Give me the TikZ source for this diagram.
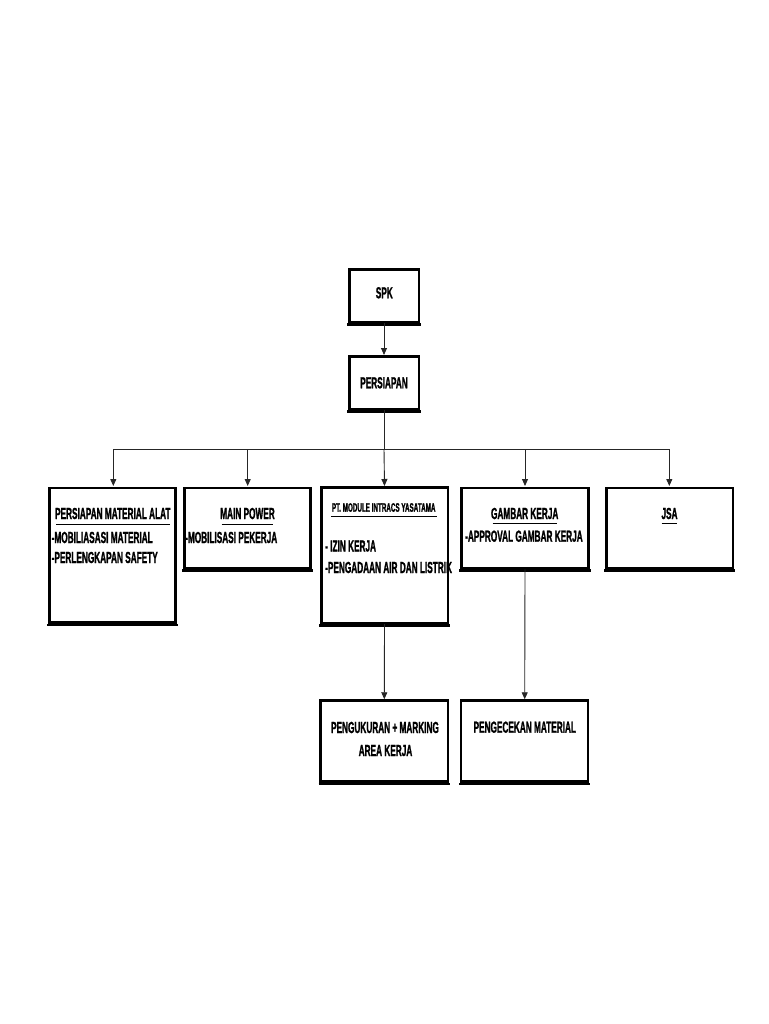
\documentclass[tikz,border=0pt]{standalone}
\usepackage{fontspec}
\newfontfamily\nar[FakeStretch=0.515,FakeBold=1.2]{Liberation Sans}
\usetikzlibrary{arrows.meta}
\tikzset{
  box/.style={draw=black, line width=2.5pt, fill=white, inner sep=0pt},
  lbl/.style={font=\nar\bfseries\fontsize{16}{19}\selectfont, inner sep=0pt, anchor=base},
  lbll/.style={lbl, anchor=base west},
  small/.style={font=\nar\bfseries\fontsize{12.2}{14}\selectfont, inner sep=0pt, anchor=base},
  uline/.style={line width=1.3pt},
  conn/.style={line width=0.9pt, draw=black!85},
  arr/.style={conn, -{Triangle[length=7pt,width=6pt]}},
  shade/.style={line width=2.5pt}
}
\begin{document}
\begin{tikzpicture}[x=1pt,y=-1pt]
\useasboundingbox (0,0) rectangle (768,1024);
% boxes
\node[box, minimum width=69.5pt, minimum height=52.5pt] (spk) at (384,295.5) {};
\node[box, minimum width=69.5pt, minimum height=52.5pt] (pers) at (384,382.5) {};
\node[box, minimum width=126pt, minimum height=134.5pt] (b1) at (112.5,555) {};
\node[box, minimum width=126pt, minimum height=80pt] (b2) at (247.5,528) {};
\node[box, minimum width=126.5pt, minimum height=135.5pt] (b3) at (384.5,555) {};
\node[box, minimum width=127pt, minimum height=80pt] (b4) at (525,528) {};
\node[box, minimum width=126.5pt, minimum height=80pt] (b5) at (669.5,528) {};
\node[box, minimum width=127.5pt, minimum height=81pt] (b6) at (384.3,741) {};
\node[box, minimum width=127pt, minimum height=81pt] (b7) at (524.7,741) {};
\foreach \n in {spk,pers,b1,b2,b3,b4,b5,b6,b7}
  \draw[shade] ([xshift=-0.8pt,yshift=-1.3pt]\n.south west) -- ([xshift=0.8pt,yshift=-1.3pt]\n.south east);
% connectors
\coordinate (junc) at (384,449);
\draw[arr] (spk.south) -- (pers.north);
\draw[conn] (pers.south) -- (junc);
\draw[conn] (113.3,449) -- (669.3,449);
\draw[arr] (113.3,449) -- (113.3,486);
\draw[arr] (247.7,449) -- (247.7,486);
\draw[arr] (junc) -- (b3.north);
\draw[arr] (525,449) -- (525,486);
\draw[arr] (669.3,449) -- (669.3,486);
\draw[arr] (b3.south) -- (b6.north);
\draw[arr] (b4.south) -- (b7.north);
% texts
\node[lbl] (tspk) at (384.3,298.3) {SPK};
\node[lbl] (tpers) at (384,388.3) {PERSIAPAN};
\node[lbl] (h1) at (112.8,519) {PERSIAPAN MATERIAL ALAT};
\draw[uline] (56,524.3) -- (170,524.3);
\node[lbll] (t1a) at (51.5,543) {-MOBILIASASI MATERIAL};
\node[lbll] (t1b) at (51.5,563) {-PERLENGKAPAN SAFETY};
\node[lbl] (h2) at (247.5,519) {MAIN POWER};
\draw[uline] (221.7,524.3) -- (273.3,524.3);
\node[lbll] (t2a) at (185,543) {-MOBILISASI PEKERJA};
\node[small] (h3) at (383.7,511.7) {PT. MODULE INTRACS YASATAMA};
\draw[uline] (331,516.3) -- (437,516.3);
\node[lbll] (t3a) at (325,551.5) {- IZIN KERJA};
\node[lbll] (t3b) at (325,573) {-PENGADAAN AIR DAN LISTRIK};
\node[lbl] (h4) at (524.7,519) {GAMBAR KERJA};
\draw[uline] (492.7,523.8) -- (556.7,523.8);
\node[lbll] (t4a) at (465,541.7) {-APPROVAL GAMBAR KERJA};
\node[lbl] (h5) at (669.5,519) {JSA};
\draw[uline] (661.7,523.8) -- (677.3,523.8);
\node[lbl] (t6a) at (385,733) {PENGUKURAN + MARKING};
\node[lbl] (t6b) at (385.5,756) {AREA KERJA};
\node[lbl] (t7a) at (524.8,732.7) {PENGECEKAN MATERIAL};
\end{tikzpicture}
\end{document}
